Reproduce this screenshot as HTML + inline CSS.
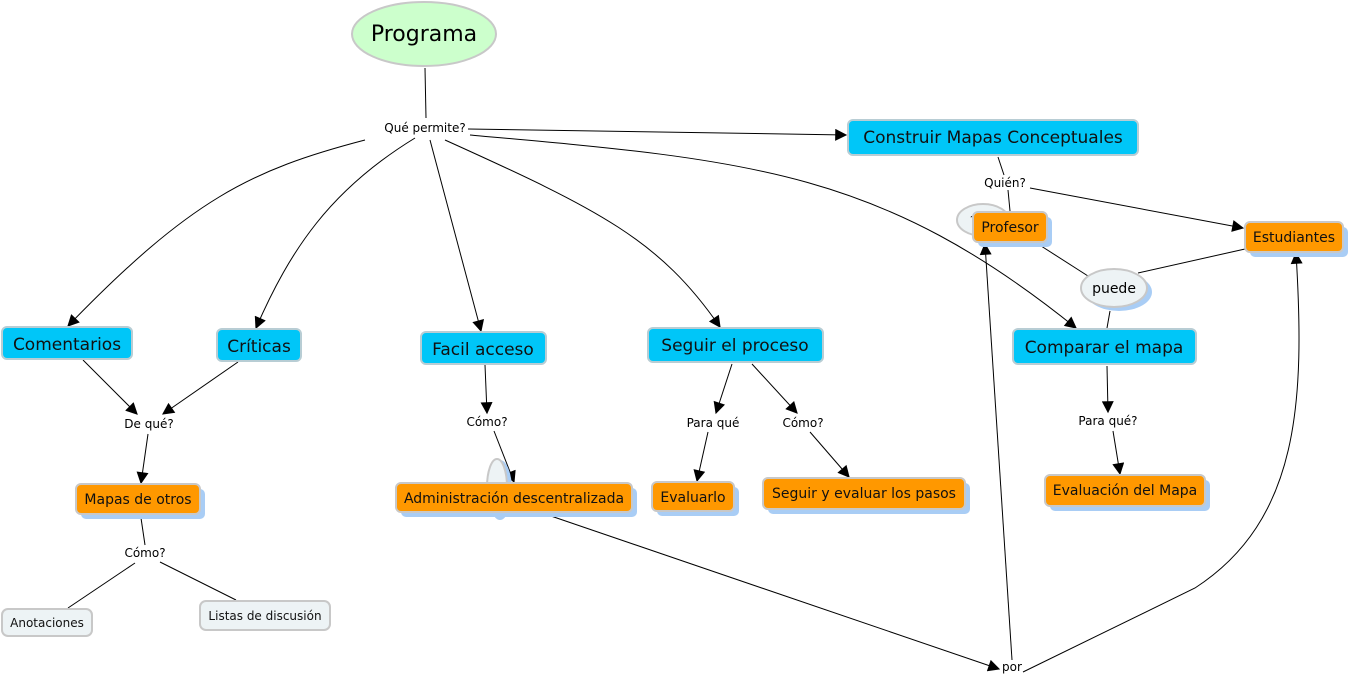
<!DOCTYPE html>
<html><head><meta charset="utf-8"><style>
html,body{margin:0;padding:0;background:#fff;}
svg{display:block;font-family:"DejaVu Sans","Liberation Sans",sans-serif;}
</style></head><body>
<svg width="1350" height="692" viewBox="0 0 1350 692" xmlns="http://www.w3.org/2000/svg">
<defs>
<marker id="a" viewBox="0 0 10 10" refX="9" refY="5" markerWidth="13" markerHeight="12" markerUnits="userSpaceOnUse" orient="auto"><path d="M0,0L10,5L0,10z" fill="#000"/></marker>
</defs>
<g fill="none" stroke="#000" stroke-width="1">
<line x1="425" y1="68" x2="426" y2="118"/>
<line x1="468" y1="129" x2="846" y2="135" marker-end="url(#a)"/>
<path d="M365,140 C250,170 190,200 68,326" marker-end="url(#a)"/>
<path d="M415,138 C330,190 290,250 256,328" marker-end="url(#a)"/>
<line x1="430" y1="140" x2="481" y2="331" marker-end="url(#a)"/>
<path d="M445,140 C600,210 660,240 720,327" marker-end="url(#a)"/>
<path d="M470,135 C750,160 880,170 1076,328" marker-end="url(#a)"/>
<line x1="998" y1="157" x2="1004" y2="175"/>
<line x1="1008" y1="190" x2="1010" y2="211"/>
<line x1="1030" y1="188" x2="1243" y2="228" marker-end="url(#a)"/>
<line x1="1038" y1="244" x2="1088" y2="276"/>
<line x1="1138" y1="273" x2="1245" y2="249"/>
<line x1="1110" y1="311" x2="1107" y2="328"/>
<line x1="83" y1="360" x2="137" y2="414" marker-end="url(#a)"/>
<line x1="238" y1="362" x2="163" y2="414" marker-end="url(#a)"/>
<line x1="148" y1="434" x2="141" y2="483" marker-end="url(#a)"/>
<line x1="141" y1="518" x2="145" y2="545"/>
<line x1="135" y1="563" x2="68" y2="608"/>
<line x1="160" y1="562" x2="236" y2="600"/>
<line x1="485" y1="365" x2="487" y2="413" marker-end="url(#a)"/>
<line x1="494" y1="431" x2="514" y2="482" marker-end="url(#a)"/>
<line x1="732" y1="364" x2="716" y2="413" marker-end="url(#a)"/>
<line x1="752" y1="364" x2="797" y2="413" marker-end="url(#a)"/>
<line x1="708" y1="432" x2="697" y2="481" marker-end="url(#a)"/>
<line x1="810" y1="432" x2="849" y2="477" marker-end="url(#a)"/>
<line x1="1107" y1="366" x2="1108" y2="412" marker-end="url(#a)"/>
<line x1="1113" y1="431" x2="1120" y2="474" marker-end="url(#a)"/>
<line x1="548" y1="515" x2="999" y2="669" marker-end="url(#a)"/>
<line x1="1012" y1="660" x2="985" y2="244" marker-end="url(#a)"/>
<path d="M1023,672 C1100,635 1170,600 1195,588 C1300,520 1305,400 1296,253" marker-end="url(#a)"/>
</g>
<ellipse cx="424" cy="34" rx="72" ry="32" fill="#ccffcc" stroke="#c8c8c8" stroke-width="2"/>
<text x="424" y="41" font-size="22" text-anchor="middle">Programa</text>
<ellipse cx="983" cy="220" rx="26" ry="16" fill="#edf3f5" stroke="#c8c8c8" stroke-width="2"/>
<text x="970" y="224" font-size="11">?</text>
<ellipse cx="500" cy="490" rx="12" ry="30" fill="#a9cdf5"/>
<ellipse cx="497" cy="487" rx="10" ry="28" fill="#edf3f5" stroke="#c8c8c8" stroke-width="2"/>
<ellipse cx="1119" cy="292" rx="33" ry="19" fill="#a9cdf5"/>
<ellipse cx="1114" cy="288" rx="33" ry="19" fill="#edf3f5" stroke="#c8c8c8" stroke-width="2"/>
<text x="1114" y="293" font-size="14" text-anchor="middle">puede</text>
<g fill="#00c6f8" stroke="#b8cdd4" stroke-width="2">
<rect x="848" y="120" width="290" height="35" rx="5"/>
<rect x="2" y="327" width="130" height="32" rx="5"/>
<rect x="217" y="329" width="84" height="32" rx="5"/>
<rect x="421" y="332" width="125" height="32" rx="5"/>
<rect x="648" y="328" width="175" height="34" rx="5"/>
<rect x="1013" y="329" width="183" height="35" rx="5"/>
</g>
<g font-size="17" text-anchor="middle" fill="#111">
<text x="993" y="143">Construir Mapas Conceptuales</text>
<text x="67" y="350">Comentarios</text>
<text x="259" y="352">Críticas</text>
<text x="483" y="355">Facil acceso</text>
<text x="735" y="351">Seguir el proceso</text>
<text x="1104" y="353">Comparar el mapa</text>
</g>
<g fill="#a9cdf5">
<rect x="978" y="217" width="74" height="30" rx="5"/>
<rect x="1250" y="227" width="98" height="30" rx="5"/>
<rect x="81" y="489" width="124" height="30" rx="5"/>
<rect x="401" y="488" width="236" height="29" rx="5"/>
<rect x="657" y="487" width="82" height="29" rx="5"/>
<rect x="768" y="483" width="202" height="31" rx="5"/>
<rect x="1050" y="480" width="160" height="31" rx="5"/>
</g>
<g fill="#ff9800" stroke="#c8c8c8" stroke-width="2">
<rect x="973" y="212" width="74" height="30" rx="5"/>
<rect x="1245" y="222" width="98" height="30" rx="5"/>
<rect x="76" y="484" width="124" height="30" rx="5"/>
<rect x="396" y="483" width="236" height="29" rx="5"/>
<rect x="652" y="482" width="82" height="29" rx="5"/>
<rect x="763" y="478" width="202" height="31" rx="5"/>
<rect x="1045" y="475" width="160" height="31" rx="5"/>
</g>
<g font-size="14" text-anchor="middle" fill="#111">
<text x="1010" y="232">Profesor</text>
<text x="1294" y="242">Estudiantes</text>
<text x="138" y="504">Mapas de otros</text>
<text x="514" y="503">Administración descentralizada</text>
<text x="693" y="502">Evaluarlo</text>
<text x="864" y="498">Seguir y evaluar los pasos</text>
<text x="1125" y="495">Evaluación del Mapa</text>
</g>
<g fill="#edf3f5" stroke="#c8c8c8" stroke-width="2">
<rect x="2" y="609" width="90" height="27" rx="6"/>
<rect x="200" y="601" width="130" height="29" rx="6"/>
</g>
<g font-size="12" text-anchor="middle" fill="#111">
<text x="47" y="627">Anotaciones</text>
<text x="265" y="620">Listas de discusión</text>
</g>
<g font-size="12" text-anchor="middle" fill="#000">
<text x="425" y="132">Qué permite?</text>
<text x="1005" y="187">Quién?</text>
<text x="149" y="428">De qué?</text>
<text x="145" y="557">Cómo?</text>
<text x="487" y="426">Cómo?</text>
<text x="713" y="427">Para qué</text>
<text x="803" y="427">Cómo?</text>
<text x="1108" y="425">Para qué?</text>
<text x="1012" y="671">por</text>
</g>
</svg>
</body></html>
